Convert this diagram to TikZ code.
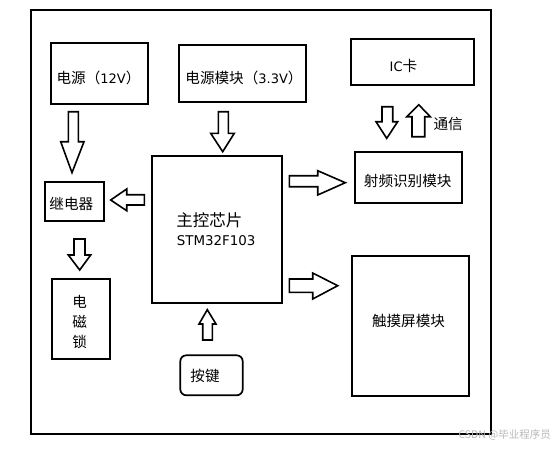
\documentclass[tikz,border=0pt]{standalone}
\usepackage{fontspec}
\newfontfamily\cjk{Noto Sans CJK SC}
\newfontfamily\lat{DejaVu Sans}
\begin{document}
\begin{tikzpicture}[x=1pt,y=-1pt,
  box/.style={draw=black,line width=1.7pt,inner sep=0pt,fill=white},
  txt/.style={font=\cjk\fontsize{14.6}{17}\selectfont,inner sep=0pt,text=black},
  barrow/.style={draw=black,line width=1.6pt,line join=miter,fill=white}]
\useasboundingbox (0,0) rectangle (552,448);
\fill[white] (0,0) rectangle (552,448);
% outer frame
\node[box,fill=none,minimum width=460pt,minimum height=424pt] (frame) at (261,222) {};
% boxes
\node[box,minimum width=97pt,minimum height=61pt] (p12) at (99.5,73.5) {};
\node[box,minimum width=127pt,minimum height=57pt] (p33) at (242.5,73.5) {};
\node[box,minimum width=123pt,minimum height=46pt] (ic) at (412.2,62.3) {};
\node[box,minimum width=107pt,minimum height=51pt] (rf) at (408.7,177.2) {};
\node[box,minimum width=59pt,minimum height=38.4pt] (relay) at (74.2,201.5) {};
\node[box,minimum width=130pt,minimum height=147pt] (mcu) at (217.2,229.7) {};
\node[box,minimum width=58pt,minimum height=80pt] (lock) at (81.3,318.8) {};
\node[box,rounded corners=6pt,minimum width=62.4pt,minimum height=40pt] (key) at (211.5,375.3) {};
\node[box,minimum width=116.4pt,minimum height=140pt] (lcd) at (410.5,325.7) {};
% texts
\node[txt] (t12) at (98.5,78) {电源（{\lat\fontsize{13}{15}\selectfont 12V}）};
\node[txt] (t33) at (244,78) {电源模块（{\lat\fontsize{13}{15}\selectfont 3.3V}）};
\node[txt] (tic) at (403.5,65.7) {{\lat\fontsize{13}{15}\selectfont IC}卡};
\node[txt] (trf) at (407.7,181) {射频识别模块};
\node[txt] (trelay) at (71.3,204) {继电器};
\node[txt,anchor=west,font=\cjk\fontsize{16.5}{19}\selectfont] (tmcu1) at (176.2,220.7) {主控芯片};
\node[txt,anchor=west,font=\lat\fontsize{13.4}{16}\selectfont] (tmcu2) at (176.7,240.7) {STM32F103};
\node[txt,align=center] (tlock) at (79.7,321.8) {电\\[3pt]磁\\[3pt]锁};
\node[txt] (tkey) at (205,376.3) {按键};
\node[txt] (tlcd) at (408.5,321.3) {触摸屏模块};
\node[txt] (tcom) at (448.2,124) {通信};
\node[font=\cjk\fontsize{10.5}{12}\selectfont,text=gray!55,anchor=east,inner sep=0pt] (wm) at (551,435) {CSDN @毕业程序员};
% block arrows
% 1: 12V -> relay (down)
\draw[barrow] (68.3,111.7) -- (78.3,111.7) -- (78.3,141.7) -- (84,141.7) -- (72,172.7) -- (60.7,141.7) -- (68.3,141.7) -- cycle;
% 2: 3.3V -> mcu (down)
\draw[barrow] (218.3,111.7) -- (228.3,111.7) -- (228.3,133.3) -- (234.3,133.3) -- (222.7,151.7) -- (210.7,133.3) -- (218.3,133.3) -- cycle;
% 3: mcu -> relay (left)
\draw[barrow] (144.3,194.7) -- (144.3,205) -- (126.7,205) -- (126.7,210.7) -- (110.7,200) -- (126.7,189) -- (126.7,194.7) -- cycle;
% 4: relay -> lock (down)
\draw[barrow] (74,239) -- (85,239) -- (85,255) -- (90.7,255) -- (79.7,270) -- (68.3,255) -- (74,255) -- cycle;
% 5: key -> mcu (up)
\draw[barrow] (202.7,340) -- (212.3,340) -- (212.3,324) -- (216,324) -- (207.3,309.7) -- (199,324) -- (202.7,324) -- cycle;
% 6: mcu -> rf (right)
\draw[barrow] (289.3,175.7) -- (317.7,175.7) -- (317.7,170.7) -- (345.3,182.7) -- (317.7,195) -- (317.7,186.7) -- (289.3,186.7) -- cycle;
% 7: mcu -> lcd (right)
\draw[barrow] (289.3,279) -- (312.7,279) -- (312.7,273) -- (337.7,285.7) -- (312.7,299) -- (312.7,292.3) -- (289.3,292.3) -- cycle;
% 8: ic -> rf (down)
\draw[barrow] (382,106.7) -- (392.7,106.7) -- (392.7,121.7) -- (397.7,121.7) -- (386.7,138.3) -- (376,121.7) -- (382,121.7) -- cycle;
% 9: rf -> ic (up)
\draw[barrow] (412,136.7) -- (424.7,136.7) -- (424.7,116.7) -- (430.3,116.7) -- (418.7,104.7) -- (406.7,116.7) -- (412,116.7) -- cycle;
\end{tikzpicture}
\end{document}
